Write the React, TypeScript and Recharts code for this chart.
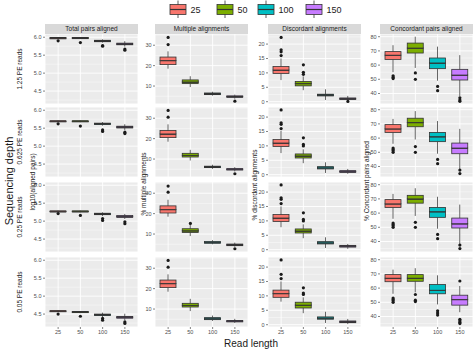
import React from 'react';
import { ComposedChart, Bar, Line, XAxis, YAxis, CartesianGrid, Cell } from 'recharts';

const categories = ['25', '50', '100', '150'];
const colors = ['#F8766D', '#7CAE00', '#00BFC4', '#C77CFF'];
const depthLabels = ['1.25 PE reads', '0.625 PE reads', '0.25 PE reads', '0.05 PE reads'];
const stripTitles = ['Total pairs aligned', 'Multiple alignments', 'Discordant alignments', 'Concordant pairs aligned'];
const axisTitles = ['log10(aligned pairs)', '% multiple alignments', '% discordant alignments', '% Concordant pairs aligned'];

// box stats per read length: [lower whisker, Q1, median, Q3, upper whisker]
const totalR1 = [[5.945, 5.955, 5.975, 5.99, 6.0], [5.95, 5.96, 5.98, 5.995, 6.005], [5.85, 5.875, 5.895, 5.915, 5.94], [5.74, 5.79, 5.81, 5.835, 5.89]];
const totalR2 = [[5.665, 5.675, 5.69, 5.705, 5.715], [5.665, 5.675, 5.69, 5.705, 5.715], [5.57, 5.6, 5.62, 5.64, 5.67], [5.45, 5.505, 5.53, 5.555, 5.61]];
const totalR3 = [[5.245, 5.255, 5.27, 5.285, 5.295], [5.245, 5.255, 5.27, 5.285, 5.295], [5.14, 5.18, 5.2, 5.22, 5.245], [5.06, 5.105, 5.13, 5.155, 5.2]];
const totalR4 = [[4.555, 4.565, 4.58, 4.595, 4.605], [4.525, 4.54, 4.555, 4.57, 4.58], [4.42, 4.46, 4.48, 4.5, 4.54], [4.33, 4.385, 4.41, 4.435, 4.51]];
const totalO1 = [[5.9], [5.85], [5.77, 5.75], [5.67, 5.64]];
const totalO2 = [[5.62], [5.56], [5.45, 5.41], [5.39, 5.35]];
const totalO3 = [[5.21], [5.16], [5.07, 5.02], [4.98, 4.93]];
const totalO4 = [[4.5], [4.44], [4.38, 4.33], [4.28, 4.24]];

const multR1 = [[18.5, 20.5, 22.5, 24.2, 27], [9.5, 11.2, 12, 13, 14.8], [5.3, 5.8, 6.2, 6.6, 7.2], [3.8, 4.5, 4.8, 5.2, 5.8]];
const multR2 = [[18.5, 20.5, 22.3, 24, 27], [9.3, 11, 11.8, 12.8, 14.5], [5.2, 5.8, 6.1, 6.5, 7.2], [3.9, 4.6, 5, 5.3, 6]];
const multR3 = [[18.5, 20.3, 22, 23.8, 26.8], [9, 10.8, 11.6, 12.6, 14.5], [5, 5.5, 5.9, 6.3, 7], [3.8, 4.3, 4.7, 5.1, 5.8]];
const multR4 = [[18.5, 20.5, 22.5, 24.2, 27], [9, 11, 11.8, 12.8, 15], [4.2, 4.8, 5.3, 5.8, 6.8], [3.2, 3.7, 4, 4.4, 5.2]];
const multO1 = [[30.3, 33.8], [], [], [2.6]];
const multO2 = [[30.5, 33.8], [], [], [2.8]];
const multO3 = [[30.5, 33.5], [15.2], [], [2.8]];
const multO4 = [[30.5, 33.8], [], [], []];

const discR1 = [[7.5, 9.8, 11, 12.2, 15], [4, 5.5, 6.3, 7, 8.8], [0.6, 2, 2.3, 2.6, 4.3], [0.3, 0.8, 1, 1.3, 2]];
const discR2 = [[7.5, 9.8, 11, 12.2, 15.2], [4, 5.8, 6.5, 7.2, 8.8], [0.6, 2, 2.4, 2.8, 4.3], [0.3, 0.8, 1.1, 1.4, 2]];
const discR3 = [[7.8, 9.8, 11, 12.2, 15], [4, 5.8, 6.5, 7.2, 8.8], [0.6, 2, 2.4, 2.8, 4.3], [0.3, 0.9, 1.2, 1.5, 2]];
const discR4 = [[8, 9.5, 10.8, 12, 15], [4, 5.8, 6.8, 7.8, 9.5], [0.6, 1.9, 2.3, 2.7, 4.5], [0.2, 0.7, 1, 1.3, 2]];
const discO1 = [[16, 17.3, 18, 22.3], [9.5, 10.2, 12.8], [], [0.1]];
const discO2 = [[16, 17.5, 18, 22.5], [10, 10.5, 12.8], [], []];
const discO3 = [[16, 17.5, 18, 22.5], [10, 10.5, 12.8], [], []];
const discO4 = [[16, 17.5, 22.5], [10.5, 11, 12.8], [], []];

const concR1 = [[55, 64, 67, 69.5, 74], [58, 68.5, 72, 75.5, 80], [49, 57.5, 61.5, 65, 73], [38, 49.5, 53, 57, 67]];
const concR2 = [[56, 64, 66.5, 69.5, 73.5], [59, 68, 71, 74, 79], [49, 57.5, 61, 64, 72], [38, 49, 53, 56.5, 66.5]];
const concR3 = [[56, 64, 66.5, 69.5, 73.5], [58, 67, 70, 72.5, 77.5], [49, 57, 61, 64, 71.5], [38, 49.5, 52.5, 56.5, 66]];
const concR4 = [[56, 64.5, 67, 69.5, 73], [57, 64.8, 67, 69.5, 74], [48.5, 56, 58.5, 62.5, 69], [43, 48, 52, 55, 61.5]];
const concO1 = [[52.5, 51.5, 50.5], [54.5, 50], [45, 42], [37, 35.5, 34.5]];
const concO2 = [[53, 52, 51, 50], [54, 50], [45, 42], [37.5, 35]];
const concO3 = [[53, 52, 51, 50], [53.5, 50], [45, 42], [37.5, 35]];
const concO4 = [[53, 52, 51, 50], [55.5, 51.5, 50.5], [44, 42.5, 41], [65, 38, 37, 36, 35]];

const totalTicks = [4.5, 5.0, 5.5, 6.0];
const totalMinor = [4.25, 4.75, 5.25, 5.75];
const multTicks = [10, 20, 30];
const multMinor = [5, 15, 25, 35];
const discTicks = [0, 5, 10, 15, 20];
const discMinor = [2.5, 7.5, 12.5, 17.5, 22.5];
const concTicks = [40, 50, 60, 70, 80];
const concMinor = [35, 45, 55, 65, 75];

const FONT = '"Liberation Sans", Arial, sans-serif';
const colX = [45, 155, 268, 380];
const rowY = [34, 107, 182, 257];
const PW = 93;
const PH = 70;
const AXW = 30;

const columns = [
  { stats: [totalR1, totalR2, totalR3, totalR4], outs: [totalO1, totalO2, totalO3, totalO4], domain: [4.14, 6.09], ticks: totalTicks, minor: totalMinor, fmt: (v: number) => v.toFixed(1) },
  { stats: [multR1, multR2, multR3, multR4], outs: [multO1, multO2, multO3, multO4], domain: [1.2, 35.5], ticks: multTicks, minor: multMinor, fmt: (v: number) => String(v) },
  { stats: [discR1, discR2, discR3, discR4], outs: [discO1, discO2, discO3, discO4], domain: [-0.8, 23.5], ticks: discTicks, minor: discMinor, fmt: (v: number) => String(v) },
  { stats: [concR1, concR2, concR3, concR4], outs: [concO1, concO2, concO3, concO4], domain: [32.6, 81.9], ticks: concTicks, minor: concMinor, fmt: (v: number) => String(v) },
];

function buildRows(stats: number[][], outs: number[][]) {
  return categories.map((c, i) => {
    const [lo, q1, md, q3, hi] = stats[i];
    const row: any = { cat: c, base: lo, w1: q1 - lo, b1: md - q1, b2: q3 - md, w2: hi - q3 };
    outs[i].forEach((v, k) => { row['o' + k] = v; });
    return row;
  });
}

const Empty = () => <g />;
const Whisker = (p: any) => {
  const cx = p.x + p.width / 2;
  return <line x1={cx} x2={cx} y1={p.y} y2={p.y + p.height} stroke="#333" strokeWidth={0.75} />;
};
const BoxLower = (p: any) => (
  <g>
    <rect x={p.x} y={p.y} width={p.width} height={Math.max(p.height, 0)} fill={p.fill} stroke="#333" strokeWidth={0.8} />
    <line x1={p.x} x2={p.x + p.width} y1={p.y} y2={p.y} stroke="#333" strokeWidth={1.5} />
  </g>
);
const BoxUpper = (p: any) => (
  <rect x={p.x} y={p.y} width={p.width} height={Math.max(p.height, 0)} fill={p.fill} stroke="#333" strokeWidth={0.8} />
);

const tickStyle = { fontSize: 5.5, fill: '#4D4D4D', fontFamily: FONT };

function Panel({ ci, ri }: { ci: number; ri: number }) {
  const col = columns[ci];
  const rows = buildRows(col.stats[ri], col.outs[ri]);
  const showX = ri === 3;
  const maxOut = Math.max(...col.outs[ri].map((o) => o.length));
  const outKeys = Array.from({ length: maxOut }, (_, k) => 'o' + k);
  return (
    <div style={{ position: 'absolute', left: colX[ci] - AXW, top: rowY[ri] }}>
      <ComposedChart width={PW + AXW} height={PH + (showX ? 12 : 0)} data={rows} margin={{ top: 0, right: 0, bottom: 0, left: 0 }}>
        <CartesianGrid horizontalValues={col.minor} vertical={false} stroke="#FFFFFF" strokeWidth={0.4} fill="#EBEBEB" />
        <CartesianGrid stroke="#FFFFFF" strokeWidth={0.9} />
        <XAxis dataKey="cat" type="category" padding={{ left: 2, right: 2 }} hide={!showX} height={12} interval={0}
          axisLine={false} tickSize={2} tickLine={{ stroke: '#333', strokeWidth: 0.6 }} tick={tickStyle} tickMargin={1} />
        <YAxis type="number" domain={col.domain} ticks={col.ticks} allowDataOverflow width={AXW} interval={0}
          axisLine={false} tickSize={2} tickLine={{ stroke: '#333', strokeWidth: 0.6 }} tick={tickStyle} tickMargin={1.5}
          tickFormatter={col.fmt} />
        <Bar dataKey="base" stackId="s" barSize={16} shape={<Empty />} isAnimationActive={false} />
        <Bar dataKey="w1" stackId="s" barSize={16} shape={<Whisker />} isAnimationActive={false} />
        <Bar dataKey="b1" stackId="s" barSize={16} shape={<BoxLower />} isAnimationActive={false}>
          {rows.map((_, i) => <Cell key={i} fill={colors[i]} />)}
        </Bar>
        <Bar dataKey="b2" stackId="s" barSize={16} shape={<BoxUpper />} isAnimationActive={false}>
          {rows.map((_, i) => <Cell key={i} fill={colors[i]} />)}
        </Bar>
        <Bar dataKey="w2" stackId="s" barSize={16} shape={<Whisker />} isAnimationActive={false} />
        {outKeys.map((k) => (
          <Line key={k} dataKey={k} stroke="none" isAnimationActive={false} activeDot={false}
            dot={{ r: 1.6, fill: '#1A1A1A', stroke: 'none' }} />
        ))}
      </ComposedChart>
    </div>
  );
}

function VText({ x, y, size, children, color = '#1A1A1A' }: any) {
  return (
    <div style={{ position: 'absolute', left: x, top: y, transform: 'translate(-50%, -50%) rotate(-90deg)', whiteSpace: 'nowrap', fontSize: size, lineHeight: 1, color, fontFamily: FONT }}>
      {children}
    </div>
  );
}

function Legend() {
  const keyX = [170, 217, 258, 306];
  return (
    <svg width={474} height={22} style={{ position: 'absolute', left: 0, top: 0 }}>
      {categories.map((c, i) => (
        <g key={c}>
          <line x1={keyX[i] + 8} x2={keyX[i] + 8} y1={0.5} y2={18} stroke="#333" strokeWidth={0.8} />
          <rect x={keyX[i]} y={4.5} width={16} height={10} fill={colors[i]} stroke="#333" strokeWidth={0.8} />
          <line x1={keyX[i]} x2={keyX[i] + 16} y1={9.5} y2={9.5} stroke="#333" strokeWidth={1.2} />
          <text x={keyX[i] + 20.5} y={12.8} fontSize={9} fill="#1A1A1A" fontFamily={FONT}>{c}</text>
        </g>
      ))}
    </svg>
  );
}

export default function App() {
  return (
    <div style={{ position: 'absolute', left: 0, top: 0, width: 474, height: 350, background: '#FFFFFF', overflow: 'hidden', fontFamily: FONT }}>
      <Legend />
      {stripTitles.map((t, ci) => (
        <div key={t} style={{ position: 'absolute', left: colX[ci], top: 24, width: PW, height: 10, background: '#D9D9D9', fontSize: 6.5, lineHeight: '10px', textAlign: 'center', color: '#1A1A1A', whiteSpace: 'nowrap' }}>
          {t}
        </div>
      ))}
      {columns.map((_, ci) => rowY.map((_, ri) => <Panel key={ci + '-' + ri} ci={ci} ri={ri} />))}
      <VText x={9} y={181} size={11}>Sequencing depth</VText>
      {depthLabels.map((d, ri) => (
        <VText key={d} x={20} y={rowY[ri] + PH / 2} size={6.5}>{d}</VText>
      ))}
      <VText x={33} y={182} size={6.5}>{axisTitles[0]}</VText>
      <VText x={144} y={184} size={6.5}>{axisTitles[1]}</VText>
      <VText x={255} y={185} size={6.5}>{axisTitles[2]}</VText>
      <VText x={367} y={181} size={6.5}>{axisTitles[3]}</VText>
      <div style={{ position: 'absolute', left: 251, top: 344, transform: 'translate(-50%, -50%)', fontSize: 10, lineHeight: 1, color: '#1A1A1A', whiteSpace: 'nowrap' }}>
        Read length
      </div>
    </div>
  );
}
